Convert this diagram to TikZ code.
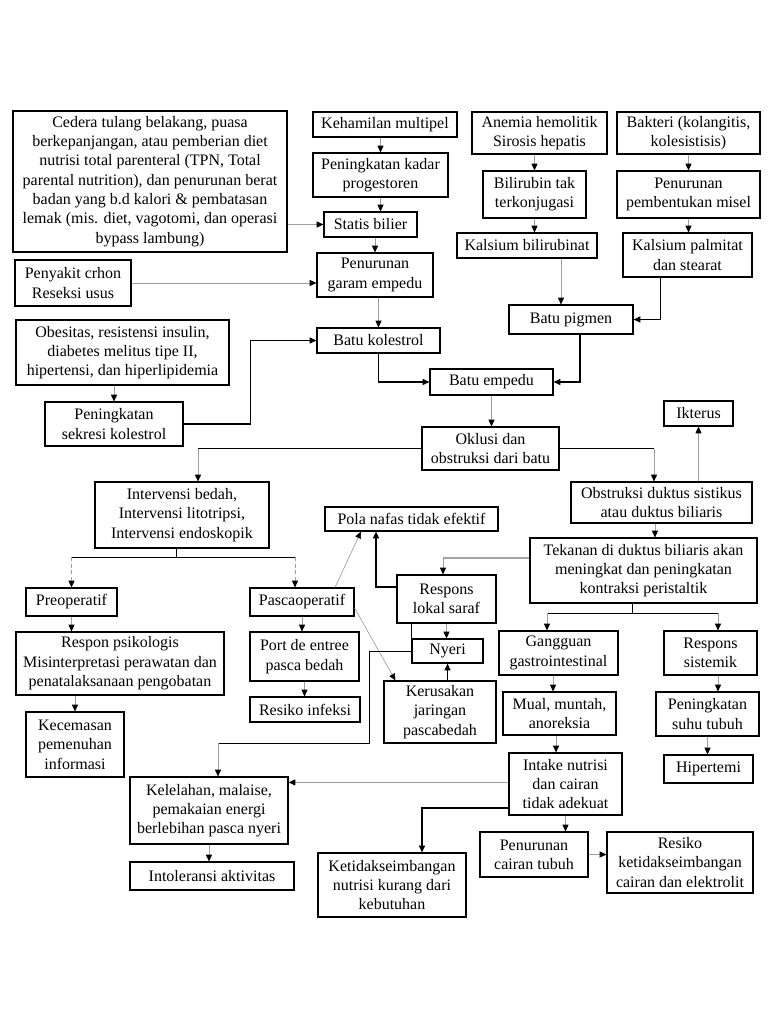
\documentclass[tikz,border=0pt]{standalone}
\usepackage{fontspec}
\setmainfont{Liberation Serif}
\usepackage{tikz}
\usetikzlibrary{arrows.meta}
\definecolor{abu}{gray}{0.62}

\begin{document}
\begin{tikzpicture}[x=0.75pt, y=-0.75pt,
    >={Triangle[length=5pt,width=4.5pt,color=black]},
    kotak/.style={draw, line width=0.9pt, align=center, inner sep=0pt, font=\fontsize{12}{14.5}\selectfont},
    ukuran/.style 2 args={minimum width=#1*0.75pt, minimum height=#2*0.75pt},
    tipis/.style={draw=abu, line width=0.5pt, ->},
    tebal/.style={line width=0.9pt, ->},
    garis/.style={line width=0.7pt}]
      \useasboundingbox (0,0) rectangle (768,1024);

      % faktor penyebab
      \node[kotak, ukuran={274}{141}] (cedera) at (150,181.5) {Cedera tulang belakang, puasa\\ berkepanjangan, atau pemberian diet\\ nutrisi total parenteral (TPN, Total\\ parental nutrition), dan penurunan berat\\ badan yang b.d kalori \& pembatasan\\ lemak (mis. diet, vagotomi, dan operasi\\ bypass lambung)};
      \node[kotak, ukuran={144}{25}] (hamil) at (385,124.5) {Kehamilan multipel};
      \node[kotak, ukuran={135}{44}] (progest) at (380.5,175) {Peningkatan kadar\\ progestoren};
      \node[kotak, ukuran={93}{25}] (statis) at (370.5,224.5) {Statis bilier};
      \node[kotak, ukuran={116}{44}] (garam) at (375,275) {Penurunan\\ garam empedu};
      \node[kotak, ukuran={116}{46}] (crhon) at (73,283) {Penyakit crhon\\ Reseksi usus};
      \node[kotak, ukuran={135}{42}] (anemia) at (539.5,133) {Anemia hemolitik\\ Sirosis hepatis};
      \node[kotak, ukuran={143}{42}] (bakteri) at (688.5,133) {Bakteri (kolangitis,\\ kolesistisis)};
      \node[kotak, ukuran={103}{47}] (bilirubin) at (534.5,194.5) {Bilirubin tak\\ terkonjugasi};
      \node[kotak, ukuran={143}{47}] (misel) at (688.5,194.5) {Penurunan\\ pembentukan misel};
      \node[kotak, ukuran={140}{25}] (kalbil) at (527,245.5) {Kalsium bilirubinat};
      \node[kotak, ukuran={129}{44}] (palmitat) at (687.5,255) {Kalsium palmitat\\ dan stearat};
      \node[kotak, ukuran={124}{29}] (pigmen) at (571,319.5) {Batu pigmen};
      \node[kotak, ukuran={123}{25}] (kolestrol) at (378.5,340.5) {Batu kolestrol};
      \node[kotak, ukuran={213}{65}] (obesitas) at (122.5,352.5) {Obesitas, resistensi insulin,\\ diabetes melitus tipe II,\\ hipertensi, dan hiperlipidemia};
      \node[kotak, ukuran={138}{44}] (sekresi) at (114,424) {Peningkatan\\ sekresi kolestrol};

      % batu dan obstruksi
      \node[kotak, ukuran={123}{26}] (empedu) at (491.5,382) {Batu empedu};
      \node[kotak, ukuran={69}{25}] (ikterus) at (698.5,413.5) {Ikterus};
      \node[kotak, ukuran={137}{43}] (oklusi) at (490.5,448.5) {Oklusi dan\\ obstruksi dari batu};
      \node[kotak, ukuran={181}{41}] (obstruksi) at (661.5,502.5) {Obstruksi duktus sistikus\\ atau duktus biliaris};
      \node[kotak, ukuran={174}{66}] (intervensi) at (182,515) {Intervensi bedah,\\ Intervensi litotripsi,\\ Intervensi endoskopik};
      \node[kotak, ukuran={173}{24}] (polanafas) at (411.5,519) {Pola nafas tidak efektif};
      \node[kotak, ukuran={227}{65}] (tekanan) at (643.5,570.5) {Tekanan di duktus biliaris akan\\ meningkat dan peningkatan\\ kontraksi peristaltik};

      % masalah keperawatan
      \node[kotak, ukuran={91}{28}] (preop) at (71.5,602) {Preoperatif};
      \node[kotak, ukuran={104}{28}] (pascaop) at (302,602) {Pascaoperatif};
      \node[kotak, ukuran={99}{48}] (lokal) at (446.5,599) {Respons\\ lokal saraf};
      \node[kotak, ukuran={71}{24}] (nyeri) at (447.5,651) {Nyeri};
      \node[kotak, ukuran={119}{44}] (gangguan) at (558.5,653) {Gangguan\\ gastrointestinal};
      \node[kotak, ukuran={93}{44}] (sistemik) at (710.5,653) {Respons\\ sistemik};
      \node[kotak, ukuran={208}{63}] (psikologis) at (120,663.5) {Respon psikologis\\ Misinterpretasi perawatan dan\\ penatalaksanaan pengobatan};
      \node[kotak, ukuran={109}{49}] (portentree) at (304.5,656.5) {Port de entree\\ pasca bedah};
      \node[kotak, ukuran={110}{25}] (infeksi) at (305,709.5) {Resiko infeksi};
      \node[kotak, ukuran={112}{62}] (kerusakan) at (440,712) {Kerusakan\\ jaringan\\ pascabedah};
      \node[kotak, ukuran={113}{43}] (mual) at (559.5,713.5) {Mual, muntah,\\ anoreksia};
      \node[kotak, ukuran={103}{44}] (suhu) at (707.5,714) {Peningkatan\\ suhu tubuh};
      \node[kotak, ukuran={98}{65}] (cemas) at (75,744.5) {Kecemasan\\ pemenuhan\\ informasi};
      \node[kotak, ukuran={113}{62}] (intake) at (565.5,784) {Intake nutrisi\\ dan cairan\\ tidak adekuat};
      \node[kotak, ukuran={89}{28}] (hipertemi) at (708.5,769) {Hipertemi};
      \node[kotak, ukuran={158}{67}] (lelah) at (209,810.5) {Kelelahan, malaise,\\ pemakaian energi\\ berlebihan pasca nyeri};
      \node[kotak, ukuran={164}{28}] (intoleransi) at (212,876) {Intoleransi aktivitas};
      \node[kotak, ukuran={148}{64}] (nutrisi) at (392,885) {Ketidakseimbangan\\ nutrisi kurang dari\\ kebutuhan};
      \node[kotak, ukuran={108}{45}] (cairan) at (534,854.5) {Penurunan\\ cairan tubuh};
      \node[kotak, ukuran={146}{61}] (elektrolit) at (680,862.5) {Resiko\\ ketidakseimbangan\\ cairan dan elektrolit};

      % titik belok
      \coordinate (okkiri) at (198,448.5);
      \coordinate (okkanan) at (654,448.5);
      \coordinate (pre1) at (71.5,557);
      \coordinate (pasca1) at (295,557);
      \coordinate (tek1) at (443,558);
      \coordinate (gang1) at (547,613);
      \coordinate (sis1) at (718,613);
      \coordinate (lelah1) at (218,743);
      \coordinate (lelah2) at ([yshift=-4.5pt]lelah.north east);

      % panah tipis bagian atas
      \draw[tipis] (progest.north |- hamil.south) -- (progest.north);
      \draw[tipis] (progest.south) -- (progest.south |- statis.north);
      \draw[tipis] (cedera.east |- statis.west) -- (statis.west);
      \draw[tipis] (garam.north |- statis.south) -- (garam.north);
      \draw[tipis] (crhon.east) -- (crhon.east -| garam.west);
      \draw[tipis] (kolestrol.north |- garam.south) -- (kolestrol.north);
      \draw[tipis] (bilirubin.north |- anemia.south) -- (bilirubin.north);
      \draw[tipis] (bilirubin.south) -- (bilirubin.south |- kalbil.north);
      \draw[tipis] ([xshift=25.5pt]kalbil.south) -- ([xshift=25.5pt]kalbil.south |- pigmen.north);
      \draw[tipis] (bakteri.south) -- (misel.north);
      \draw[tipis] (misel.south) -- (misel.south |- palmitat.north);
      \draw[tipis] (sekresi.north |- obesitas.south) -- (sekresi.north);

      % menuju batu empedu
      \draw[tebal] ([xshift=-20pt]palmitat.south) |- (pigmen.east);
      \draw[tebal] ([xshift=6.75pt]pigmen.south) |- (empedu.east);
      \draw[tebal] (kolestrol.south) |- (empedu.west);
      \draw[tebal] (sekresi.east) -- ++(67,0) |- (kolestrol.west);

      % oklusi dan cabangnya
      \draw[tipis] (empedu.south) -- (empedu.south |- oklusi.north);
      \draw[garis] (oklusi.west) -- (okkiri);
      \draw[tipis] (okkiri) -- (okkiri |- intervensi.north);
      \draw[garis] (oklusi.east) -- (okkanan);
      \draw[tipis] (okkanan) -- (okkanan |- obstruksi.north);
      \draw[tipis] (obstruksi.north -| ikterus.south) -- (ikterus.south);
      \draw[tipis] ([xshift=-4.9pt]obstruksi.south) -- ([xshift=-4.9pt]obstruksi.south |- tekanan.north);

      % intervensi
      \draw[garis] ([xshift=-4pt]intervensi.south) -- ([xshift=-4pt]intervensi.south |- pre1);
      \draw[garis] (pre1) -- (pasca1);
      \draw[tipis, densely dashed] (pre1) -- (preop.north);
      \draw[tipis, densely dashed] (pasca1) -- (pasca1 |- pascaop.north);
      \draw[tipis] (preop.south) -- (preop.south |- psikologis.north);
      \draw[tipis] (cemas.north |- psikologis.south) -- (cemas.north);
      \draw[tipis] (pascaop.south) -- (pascaop.south |- portentree.north);
      \draw[tipis] (portentree.south) -- (portentree.south |- infeksi.north);
      \draw[tipis] ([xshift=24.75pt]pascaop.north) -- ([xshift=-37.9pt]polanafas.south);
      \draw[tipis] ([yshift=-4.5pt]pascaop.east) -- ([xshift=9pt]kerusakan.north west);

      % respons lokal saraf dan nyeri
      \draw[tebal] ([yshift=9pt]lokal.west) -| ([xshift=-26.6pt]polanafas.south);
      \draw[garis] ([yshift=9.4pt]tekanan.west) -- (tek1);
      \draw[tipis] (tek1) -- (tek1 |- lokal.north);
      \draw[tipis] (lokal.south) -- (lokal.south |- nyeri.north);
      \draw[garis] (nyeri.north west |- lokal.south) -- (nyeri.north west);
      \draw[tebal] (nyeri.south |- kerusakan.north) -- (nyeri.south);
      \draw[garis] (nyeri.west) -- ++(-42,0) |- (lelah1);
      \draw[tipis] (lelah1) -- (lelah1 |- lelah.north);
      \draw[tipis] (lelah.south) -- (lelah.south |- intoleransi.north);

      % gastrointestinal dan sistemik
      \draw[garis] ([xshift=-8.6pt]tekanan.south) -- ([xshift=-8.6pt]tekanan.south |- gang1);
      \draw[garis] (gang1) -- (sis1);
      \draw[tipis] (gang1) -- (gang1 |- gangguan.north);
      \draw[tipis] (sis1) -- (sis1 |- sistemik.north);
      \draw[tipis] ([xshift=-4.1pt]gangguan.south) -- ([xshift=-4.1pt]gangguan.south |- mual.north);
      \draw[tipis] ([xshift=-2.6pt]mual.south) -- ([xshift=-2.6pt]mual.south |- intake.north);
      \draw[tipis] (sistemik.south -| sis1) -- (suhu.north -| sis1);
      \draw[tipis] (suhu.south) -- (suhu.south |- hipertemi.north);

      % intake nutrisi
      \draw[tipis] (intake.west |- lelah2) -- (lelah2);
      \draw[tebal] ([yshift=-18pt]intake.west) -| ([xshift=22.5pt]nutrisi.north);
      \draw[tipis] (intake.south) -- (intake.south |- cairan.north);
      \draw[tipis] (cairan.east) -- (cairan.east -| elektrolit.west);
    \end{tikzpicture}
\end{document}
